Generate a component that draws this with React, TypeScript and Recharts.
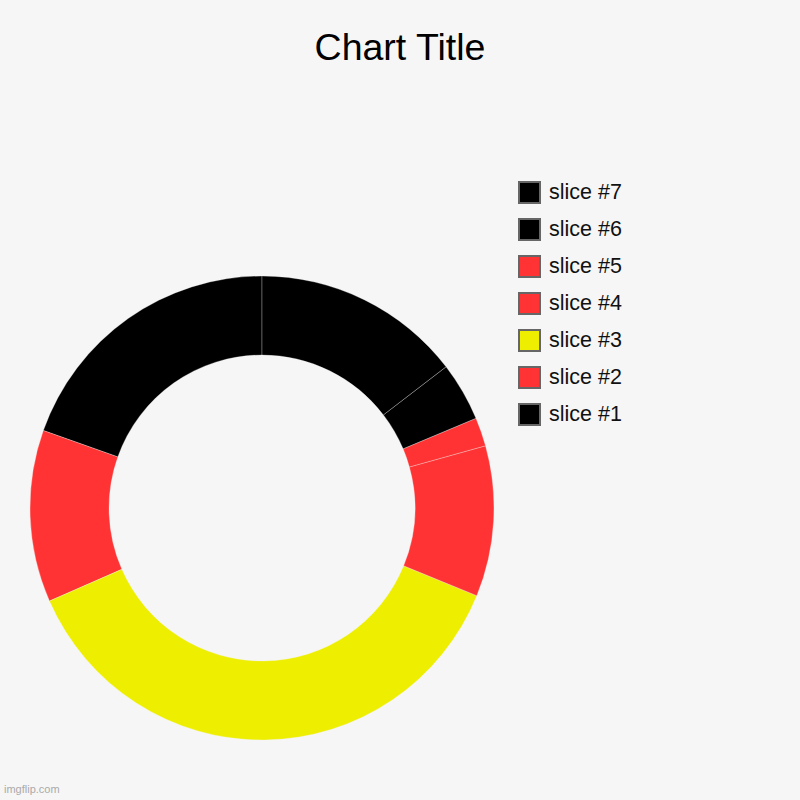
import { PieChart, Pie, Cell, Legend } from 'recharts'

const sliceNames = ['slice #1', 'slice #2', 'slice #3', 'slice #4', 'slice #5', 'slice #6', 'slice #7']
const sliceValues = [19.6, 12.0, 37.3, 10.5, 2.0, 4.1, 14.6]
const sliceColors = ['#000000', '#ff3333', '#eeee00', '#ff3333', '#ff3333', '#000000', '#000000']

const data = sliceNames.map((name, i) => ({ name, value: sliceValues[i] }))

function SliceLegend({ payload }: any) {
  if (!payload?.length) return null
  const items = [...payload].reverse()
  return (
    <div>
      {items.map((entry: any) => (
        <div
          key={entry.value}
          style={{ display: 'flex', alignItems: 'center', height: 37 }}
        >
          <span
            style={{
              width: 19,
              height: 19,
              background: entry.color,
              border: '2px solid #666666',
              marginRight: 8,
              display: 'inline-block',
            }}
          />
          <span style={{ fontSize: 21.5, color: '#111111', fontFamily: '"Liberation Sans", Arial, sans-serif' }}>
            {entry.value}
          </span>
        </div>
      ))}
    </div>
  )
}

export default function App() {
  return (
    <div
      style={{
        position: 'absolute',
        left: 0,
        top: 0,
        width: 800,
        height: 800,
        background: '#f6f6f6',
        fontFamily: '"Liberation Sans", Arial, sans-serif',
      }}
    >
      <div
        style={{
          position: 'absolute',
          top: 26,
          width: 800,
          textAlign: 'center',
          fontSize: 37.5,
          color: '#000000',
        }}
      >
        Chart Title
      </div>
      <PieChart
        width={800}
        height={800}
        margin={{ top: 0, right: 0, bottom: 0, left: 0 }}
        style={{ position: 'absolute', left: 0, top: 0 }}
      >
        <Pie
          data={data}
          dataKey="value"
          nameKey="name"
          cx={262}
          cy={508}
          innerRadius={153}
          outerRadius={232}
          startAngle={90}
          endAngle={450}
          stroke="#f6f6f6"
          strokeWidth={0.3}
          isAnimationActive={false}
        >
          {data.map((d, i) => (
            <Cell key={d.name} fill={sliceColors[i]} />
          ))}
        </Pie>
        <Legend
          layout="vertical"
          content={<SliceLegend />}
          wrapperStyle={{ left: 518, top: 174, width: 200 }}
        />
      </PieChart>
      <div
        style={{
          position: 'absolute',
          left: 4,
          top: 783,
          fontSize: 11,
          color: '#aaaaaa',
        }}
      >
        imgflip.com
      </div>
    </div>
  )
}
